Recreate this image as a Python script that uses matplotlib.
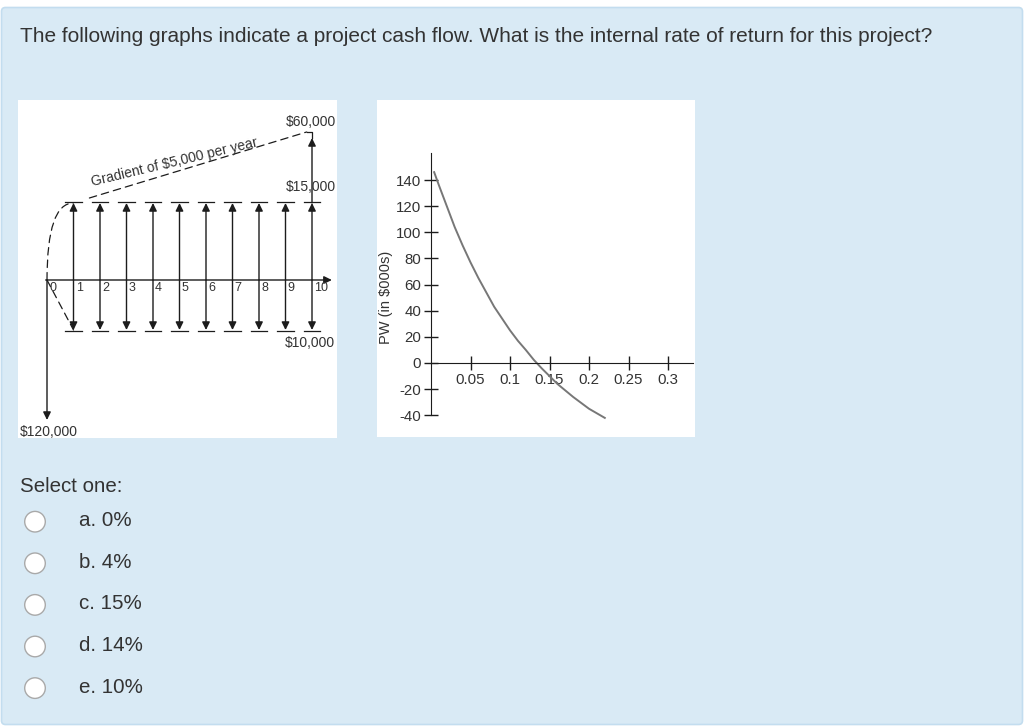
import matplotlib.pyplot as plt
from matplotlib.patches import FancyBboxPatch, Circle

plt.rcParams['font.family'] = ['Liberation Sans', 'DejaVu Sans']
plt.rcParams['axes.unicode_minus'] = False

# question text
question = "The following graphs indicate a project cash flow. What is the internal rate of return for this project?"
choices = ["a. 0%", "b. 4%", "c. 15%", "d. 14%", "e. 10%"]

# cash flow diagram data
years = list(range(0, 11))
first_cost = -120000
base_receipt = 15000
last_receipt = 60000
annual_cost = -10000
gradient_label = "Gradient of \\$5,000 per year"

# present worth curve (in $000s)
pw_rate = [0.004, 0.007, 0.01, 0.015, 0.02, 0.025, 0.03, 0.035, 0.04, 0.05, 0.06, 0.07,
           0.08, 0.09, 0.10, 0.11, 0.12, 0.13, 0.14, 0.15, 0.16, 0.17, 0.18, 0.19,
           0.20, 0.21, 0.22]
pw_value = [146, 141, 136, 128, 120, 112, 104, 97, 90, 77, 65, 54,
            43, 34, 25, 17, 10, 2.5, -4, -10, -16, -21, -26, -30.5,
            -35, -38.5, -42]
x_ticks = [0.05, 0.1, 0.15, 0.2, 0.25, 0.3]
x_ticklabels = ['0.05', '0.1', '0.15', '0.2', '0.25', '0.3']
y_ticks = [-40, -20, 0, 20, 40, 60, 80, 100, 120, 140]

W, H = 1024, 728


def box(x0, y0, x1, y1):
    return [x0 / W, 1 - y1 / H, (x1 - x0) / W, (y1 - y0) / H]


# schematic arrow heights for the cash flow sketch (not to scale)
def sketch_h(amount):
    return {15000: 77, 60000: 142, -10000: -50, -120000: -140}[amount]


fig = plt.figure(figsize=(10.24, 7.28), dpi=100)
bg = fig.add_axes([0, 0, 1, 1])
bg.set_xlim(0, W)
bg.set_ylim(H, 0)
bg.axis('off')

bg.add_patch(FancyBboxPatch((1.5, 7.5), 1021, 717,
                            boxstyle='round,pad=0,rounding_size=4',
                            fc='#d9eaf5', ec='#c3ddef', lw=1.2))
txt = '#333333'
bg.text(20, 42, question, fontsize=15, color=txt, va='baseline', ha='left')
bg.text(20, 492, "Select one:", fontsize=14.8, color=txt, va='baseline', ha='left')
for k, c in enumerate(choices):
    yy = 521.7 + 41.6 * k
    bg.add_patch(Circle((35, yy), 10.3, fc='white', ec='#a9a9a9', lw=1))
    bg.text(79, yy + 4.5, c, fontsize=14.8, color=txt, va='baseline', ha='left')

# ---- cash flow diagram ----
ax = fig.add_axes(box(18, 100, 337, 438))
ax.set_xlim((18 - 47) / 26.5, (337 - 47) / 26.5)
ax.set_ylim(280 - 438, 280 - 100)
ax.set_facecolor('white')
for s in ax.spines.values():
    s.set_visible(False)
ax.set_xticks([])
ax.set_yticks([])

lc = '#1c1c1c'
arr = dict(arrowstyle='-|>,head_length=0.55,head_width=0.27', color=lc, lw=1.0,
           shrinkA=0, shrinkB=0, mutation_scale=8.5)
dash = dict(arrowstyle='-', color=lc, lw=0.9, ls=(0, (6, 4)), shrinkA=0, shrinkB=0)

# time line
ax.annotate('', xy=(years[-1] + 0.75, 0), xytext=(years[0] - 0.05, 0), arrowprops=arr)
# first cost
ax.annotate('', xy=(0, sketch_h(first_cost)), xytext=(0, 0), arrowprops=arr)
up = sketch_h(base_receipt)
dn = sketch_h(annual_cost)
for yr in years[1:]:
    ax.annotate('', xy=(yr, up), xytext=(yr, 0), arrowprops=arr)
    ax.annotate('', xy=(yr, dn), xytext=(yr, 0), arrowprops=arr)
    ax.plot([yr - 0.32, yr + 0.32], [up + 1, up + 1], color=lc, lw=0.9)
    ax.plot([yr - 0.32, yr + 0.32], [dn - 1, dn - 1], color=lc, lw=0.9)
ax.annotate('', xy=(years[-1], sketch_h(last_receipt)), xytext=(years[-1], up), arrowprops=arr)

# gradient and dashed connectors
ax.annotate('', xy=(years[1], up), xytext=(0, 0),
            arrowprops=dict(dash, connectionstyle='angle3,angleA=90,angleB=0'))
ax.annotate('', xy=(years[1], dn), xytext=(0, 0), arrowprops=dash)
ax.annotate('', xy=(years[-1] - 0.2, sketch_h(last_receipt) + 6),
            xytext=(years[1] + 0.6, up + 5), arrowprops=dash)
ax.plot([years[-1] - 0.2, years[-1], years[-1]],
        [sketch_h(last_receipt) + 6, sketch_h(last_receipt) + 6, sketch_h(last_receipt)],
        color=lc, lw=0.9)

ax.text(4.8, 118, gradient_label, rotation=13.5, fontsize=10, color='#333333',
        ha='center', va='center')
ax.text(10.92, 158, "\\$60,000", fontsize=10, color='#333333', ha='right', va='center')
ax.text(10.92, 93, "\\$15,000", fontsize=10, color='#333333', ha='right', va='center')
ax.text(10.87, -63, "\\$10,000", fontsize=10, color='#333333', ha='right', va='center')
ax.text(-1.03, -152, "\\$120,000", fontsize=10, color='#333333', ha='left', va='center')
for yr in years:
    ax.text(yr + 0.08, -2, str(yr), fontsize=9, color='#333333', ha='left', va='top')

# ---- present worth graph ----
ax2 = fig.add_axes(box(377, 100, 695, 437))
ax2.set_facecolor('white')
ax2.set_xlim((377 - 431) / 790, (695 - 431) / 790)
ax2.set_ylim((363 - 437) / 1.307, (363 - 100) / 1.307)
ax2.plot(pw_rate, pw_value, color='#777777', lw=1.4)
for s in ['top', 'right']:
    ax2.spines[s].set_visible(False)
ax2.spines['left'].set_position(('data', 0))
ax2.spines['bottom'].set_position(('data', 0))
ax2.spines['left'].set_bounds(-40, 161)
ax2.spines['bottom'].set_bounds(0, 0.332)
ax2.spines['left'].set_color(lc)
ax2.spines['bottom'].set_color(lc)
ax2.set_xticks(x_ticks)
ax2.set_xticklabels(x_ticklabels)
ax2.set_yticks(y_ticks)
ax2.tick_params(direction='inout', length=10, width=1, colors=lc, labelcolor='#333333',
                labelsize=10.8, pad=2)
ax2.set_ylabel("PW (in \\$000s)", fontsize=10.5, color='#333333')
ax2.yaxis.set_label_coords((393 - 377) / 318, (437 - 297) / 337)

fig.savefig('out.png', dpi=100, facecolor='white')
